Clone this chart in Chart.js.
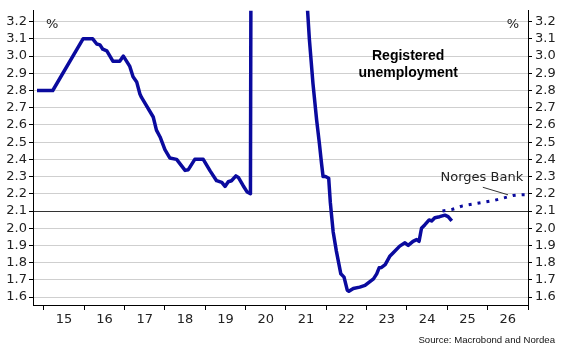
<!DOCTYPE html>
<html>
<head>
<meta charset="utf-8">
<script src="https://cdn.jsdelivr.net/npm/chart.js@4.4.1/dist/chart.umd.min.js"></script>
<style>
  html, body { margin: 0; padding: 0; background: #fff; }
  #wrap { width: 563px; height: 356px; position: relative; }
</style>
</head>
<body>
<div id="wrap"><canvas id="c"></canvas></div>
<script>
// ---- Data ----
const regYears = [
  2014.83, 2015.22, 2015.97, 2016.21, 2016.31, 2016.39, 2016.46, 2016.56, 2016.71, 2016.88,
  2016.97, 2017.13, 2017.21, 2017.30, 2017.38, 2017.42, 2017.71, 2017.79, 2017.88, 2018.00,
  2018.12, 2018.29, 2018.50, 2018.58, 2018.74, 2018.95, 2019.12, 2019.28, 2019.41, 2019.49,
  2019.57, 2019.65, 2019.76, 2019.82, 2019.94, 2020.04, 2020.12, 2020.20, 2020.29, 2020.37,
  2020.46, 2020.62, 2020.79, 2020.96, 2021.12, 2021.29, 2021.42, 2021.50, 2021.58, 2021.67,
  2021.76, 2021.83, 2021.88, 2021.92, 2021.98, 2022.06, 2022.10, 2022.13, 2022.17, 2022.25,
  2022.36, 2022.44, 2022.52, 2022.56, 2022.67, 2022.83, 2022.96, 2023.17, 2023.25, 2023.31,
  2023.37, 2023.46, 2023.58, 2023.66, 2023.82, 2023.95, 2024.03, 2024.15, 2024.24, 2024.30,
  2024.36, 2024.44, 2024.55, 2024.61, 2024.69, 2024.81, 2024.94, 2025.02, 2025.11
];
const regValues = [
  2.80, 2.80, 3.10, 3.10, 3.07, 3.065, 3.04, 3.03, 2.97, 2.97,
  3.00, 2.94, 2.88, 2.85, 2.78, 2.76, 2.646, 2.57, 2.53, 2.456,
  2.408, 2.40, 2.336, 2.34, 2.40, 2.40, 2.333, 2.276, 2.266, 2.243,
  2.27, 2.276, 2.304, 2.295, 2.247, 2.21, 2.20, 10.4, 9.0, 7.5,
  5.5, 5.0, 4.8, 4.6, 4.5, 4.3, 3.70, 3.40, 3.10, 2.84,
  2.63, 2.49, 2.38, 2.30, 2.30, 2.29, 2.15, 2.076, 1.98, 1.867,
  1.735, 1.716, 1.64, 1.634, 1.65, 1.658, 1.668, 1.706, 1.735, 1.77,
  1.772, 1.788, 1.839, 1.858, 1.896, 1.915, 1.90, 1.924, 1.934, 1.924,
  2.00, 2.019, 2.048, 2.042, 2.061, 2.067, 2.076, 2.067, 2.042
];
const nbYears  = [2024.88, 2025.13, 2025.38, 2025.63, 2025.88, 2026.13, 2026.38, 2026.63, 2026.88, 2027.0];
const nbValues = [2.10,    2.11,    2.13,    2.14,    2.15,    2.16,    2.175,   2.19,    2.195,   2.195];

const yTicks = [1.6, 1.7, 1.8, 1.9, 2.0, 2.1, 2.2, 2.3, 2.4, 2.5, 2.6, 2.7, 2.8, 2.9, 3.0, 3.1, 3.2];
const xYears = [2015, 2016, 2017, 2018, 2019, 2020, 2021, 2022, 2023, 2024, 2025, 2026];
const xLabels = ['15', '16', '17', '18', '19', '20', '21', '22', '23', '24', '25', '26'];
const refLine = 2.1;

const BLUE = '#0a0a9e';

Chart.defaults.font.family = '"DejaVu Sans", sans-serif';
Chart.defaults.font.size = 13;
Chart.defaults.color = '#222';

const toPts = (xs, ys) => xs.map((x, i) => ({ x: x, y: ys[i] }));

const annot = {
  id: 'annot',
  afterDraw(chart) {
    const { ctx, chartArea: ca, scales } = chart;
    const xs = scales.x, ys = scales.y;
    ctx.save();
    // % signs
    ctx.fillStyle = '#222';
    ctx.font = '13px "DejaVu Sans", sans-serif';
    ctx.textBaseline = 'middle';
    ctx.textAlign = 'left';
    ctx.fillText('%', ca.left + 13, ca.top + 14);
    ctx.textAlign = 'right';
    ctx.fillText('%', ca.right - 9, ca.top + 14);
    // Title
    ctx.fillStyle = '#000';
    ctx.font = 'bold 14px "Liberation Sans", Arial, sans-serif';
    ctx.textAlign = 'center';
    ctx.textBaseline = 'alphabetic';
    const tx = xs.getPixelForValue(2024.03);
    ctx.fillText('Registered', tx, ys.getPixelForValue(3.0) + 4);
    ctx.fillText('unemployment', tx, ys.getPixelForValue(2.9) + 4);
    // Norges Bank label + leader
    ctx.fillStyle = '#222';
    ctx.font = '13px "DejaVu Sans", sans-serif';
    ctx.textAlign = 'right';
    ctx.fillText('Norges Bank', xs.getPixelForValue(2026.88), ys.getPixelForValue(2.277));
    ctx.strokeStyle = '#333';
    ctx.lineWidth = 1;
    ctx.beginPath();
    ctx.moveTo(xs.getPixelForValue(2025.88), ys.getPixelForValue(2.238));
    ctx.lineTo(xs.getPixelForValue(2026.505), ys.getPixelForValue(2.194));
    ctx.stroke();
    // Source
    ctx.fillStyle = '#111';
    ctx.font = '9.6px "Liberation Sans", Arial, sans-serif';
    ctx.textAlign = 'right';
    ctx.fillText('Source: Macrobond and Nordea', chart.width - 8, chart.height - 13);
    ctx.restore();
  }
};

new Chart(document.getElementById('c'), {
  type: 'line',
  data: {
    datasets: [
      {
        data: toPts(regYears, regValues),
        borderColor: BLUE,
        borderWidth: 3.5,
        pointRadius: 0,
        tension: 0,
        clip: 0,
        borderJoinStyle: 'round'
      },
      {
        data: toPts(nbYears, nbValues),
        borderColor: BLUE,
        borderWidth: 3,
        borderDash: [3, 6],
        pointRadius: 0,
        tension: 0,
        clip: 0
      }
    ]
  },
  options: {
    responsive: true,
    maintainAspectRatio: false,
    animation: false,
    events: [],
    layout: { padding: { top: 5, left: 0, right: 0, bottom: 0 } },
    plugins: { legend: { display: false }, tooltip: { enabled: false } },
    scales: {
      x: {
        type: 'linear',
        position: 'bottom',
        min: 2014.73,
        max: 2027,
        afterBuildTicks(scale) {
          const t = [];
          xYears.forEach(y => { t.push({ value: y }); t.push({ value: y + 0.5 }); });
          t.push({ value: 2027 });
          scale.ticks = t;
        },
        afterFit(scale) { scale.height = 51; },
        ticks: {
          autoSkip: false,
          maxRotation: 0,
          padding: 2,
          color: '#222',
          callback(v) {
            const i = xYears.indexOf(v - 0.5);
            return i >= 0 ? xLabels[i] : '';
          }
        },
        grid: {
          drawOnChartArea: false,
          drawTicks: true,
          tickLength: 5,
          tickColor: (c) => (c.tick && Number.isInteger(c.tick.value)) ? '#000' : 'rgba(0,0,0,0)'
        },
        border: { color: '#000', width: 1 }
      },
      y: {
        position: 'left',
        min: 1.554,
        max: 3.263,
        afterBuildTicks(scale) { scale.ticks = yTicks.map(v => ({ value: v })); },
        afterFit(scale) { scale.width = 33; },
        ticks: { autoSkip: false, padding: 2, color: '#222', callback: v => v.toFixed(1) },
        grid: {
          color: (c) => (c.tick && Math.abs(c.tick.value - refLine) < 1e-6) ? '#333' : '#cfcfcf',
          lineWidth: 1,
          tickLength: 4,
          tickColor: '#000'
        },
        border: { color: '#000', width: 1 }
      },
      y2: {
        position: 'right',
        min: 1.554,
        max: 3.263,
        afterBuildTicks(scale) { scale.ticks = yTicks.map(v => ({ value: v })); },
        afterFit(scale) { scale.width = 35; },
        ticks: { autoSkip: false, padding: 3, color: '#222', callback: v => v.toFixed(1) },
        grid: { drawOnChartArea: false, tickLength: 4, tickColor: '#000' },
        border: { color: '#000', width: 1 }
      }
    }
  },
  plugins: [annot]
});
</script>
</body>
</html>
